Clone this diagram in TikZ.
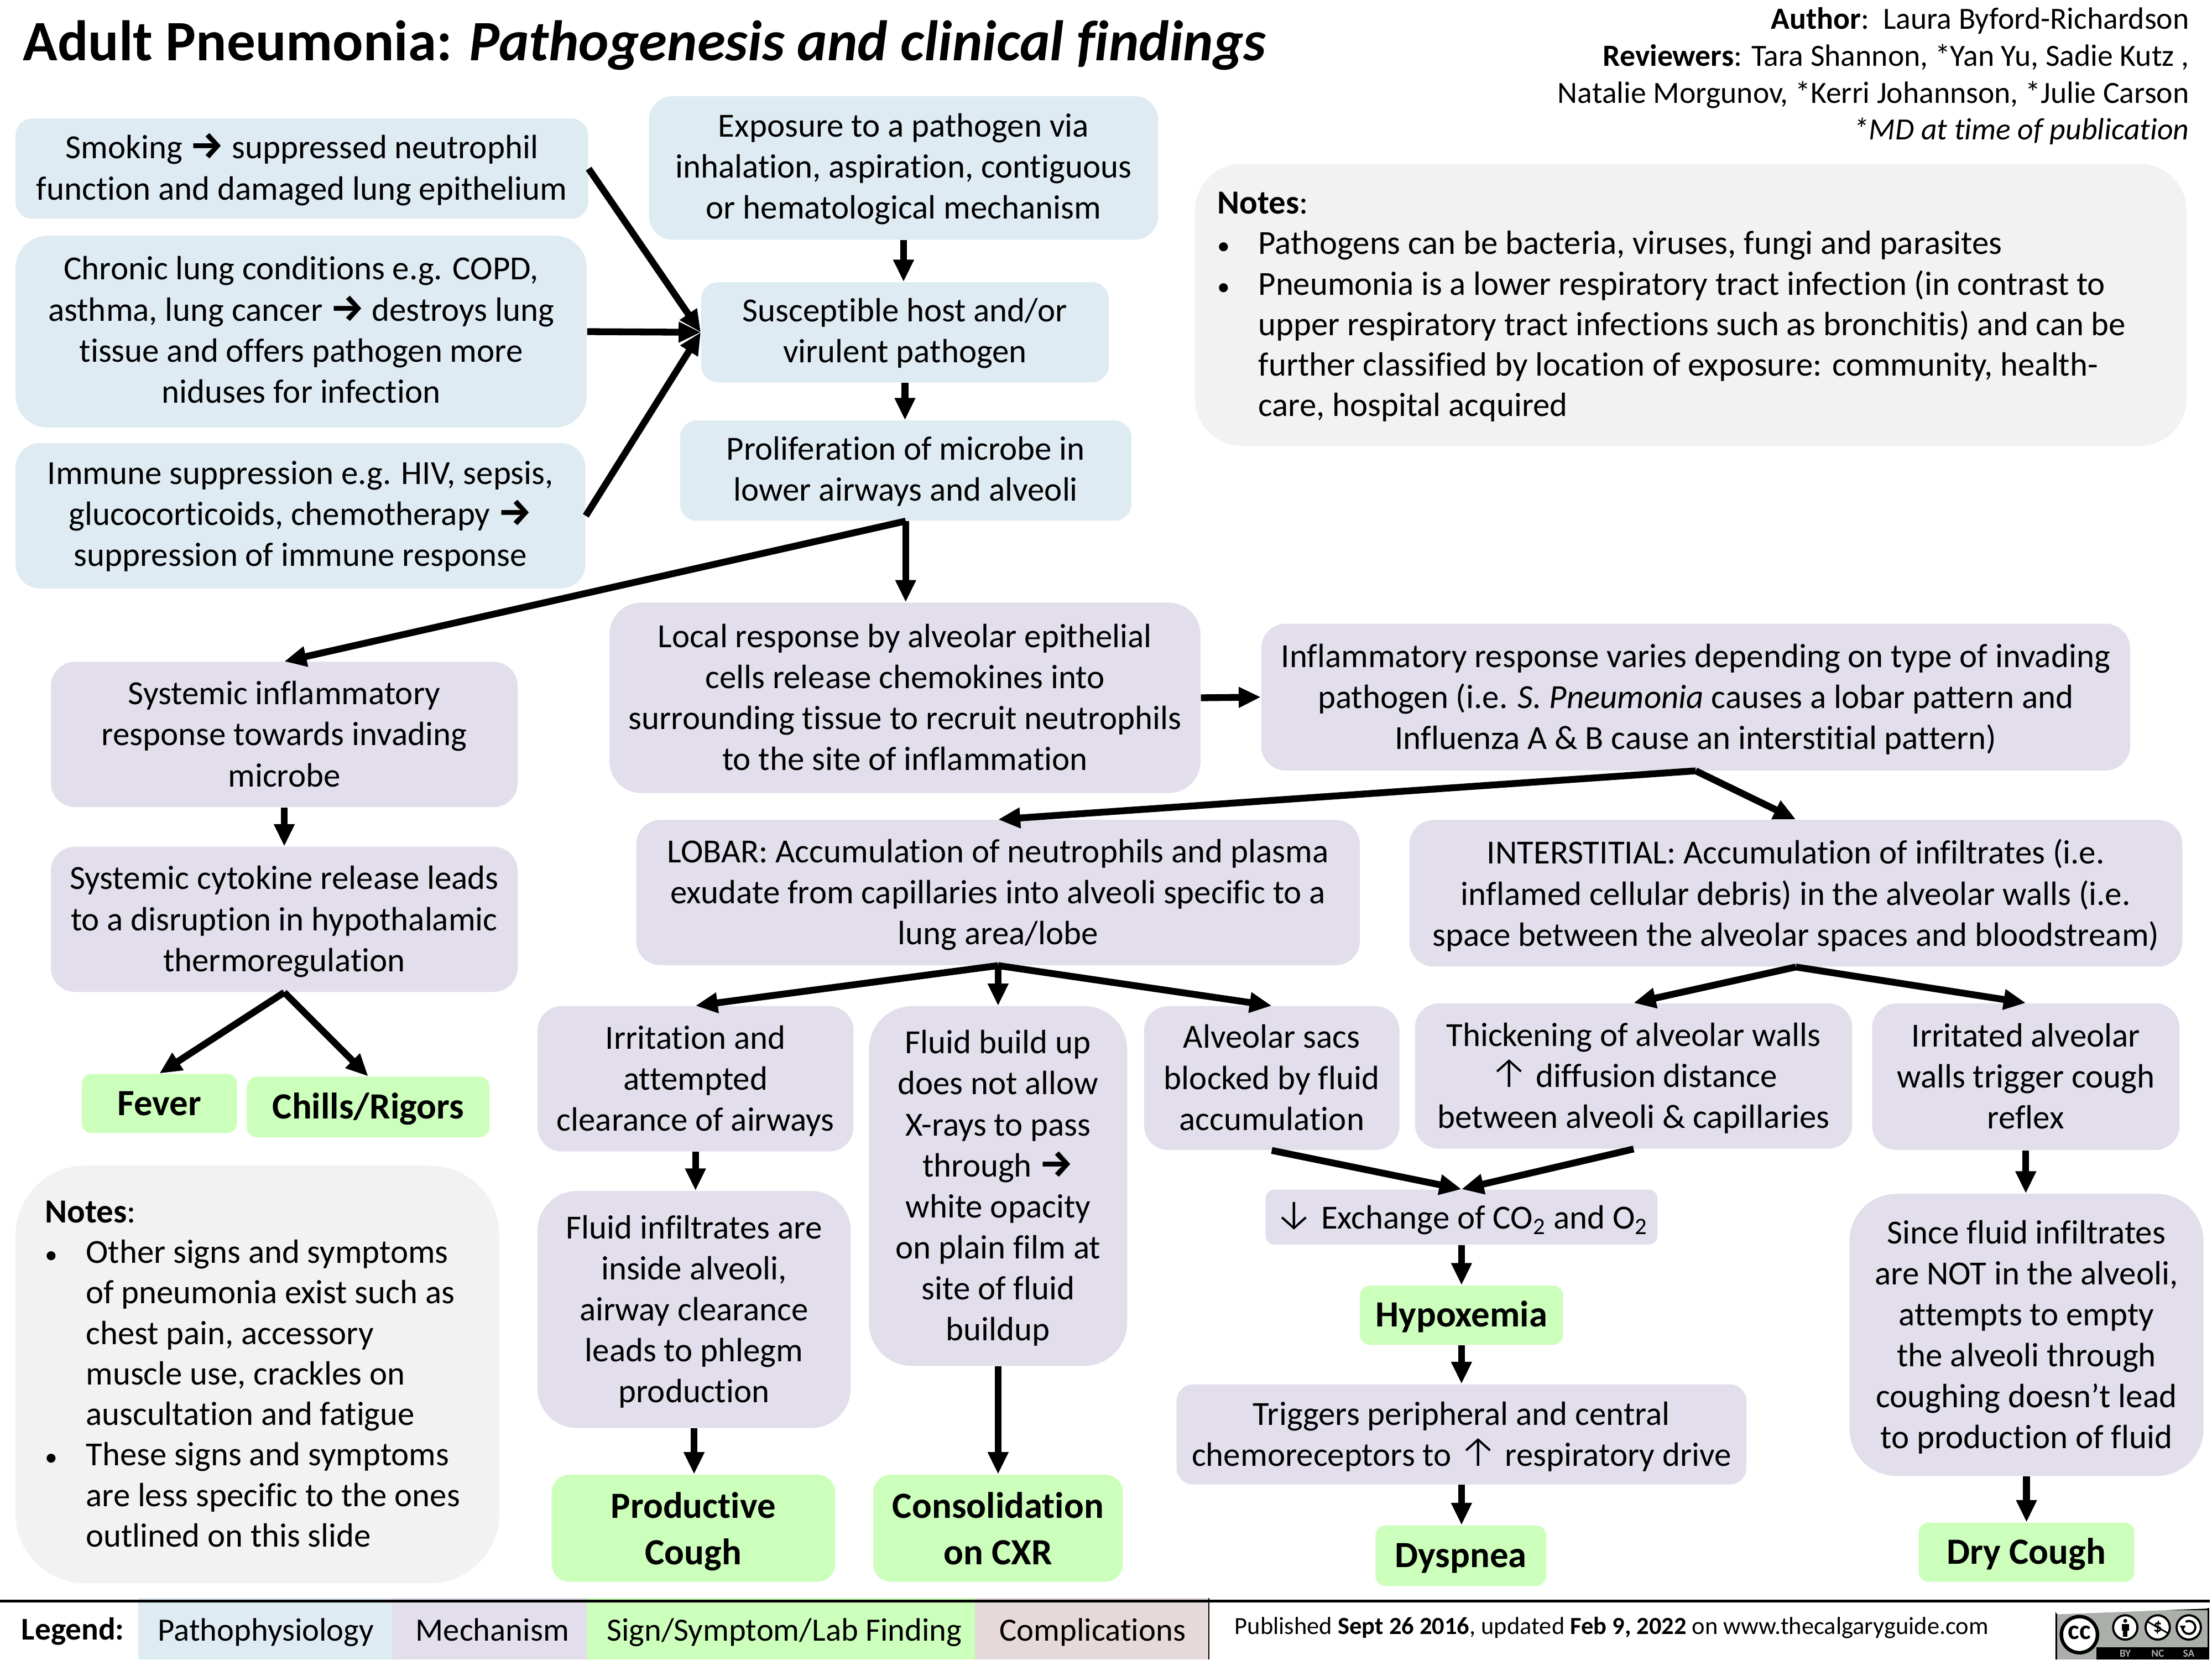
\documentclass[tikz,border=0pt]{standalone}
\usepackage{fontspec}
\setmainfont{Carlito}[Ligatures=NoCommon]
\newfontfamily\arfont{Fira Sans}
\newfontfamily\arlight{Fira Sans Light}
\usetikzlibrary{arrows.meta,calc}
\definecolor{cblue}{HTML}{DFEBF3}
\definecolor{cpurp}{HTML}{E3DEEB}
\definecolor{cgreen}{HTML}{CCFFBB}
\definecolor{cgrey}{HTML}{F2F2F2}
\definecolor{cred}{HTML}{E6D9D9}
\definecolor{cbadge}{HTML}{ABAFA9}
\newcommand{\txtRa}{{\arfont\bfseries\fontsize{19.5}{19.5}\selectfont →}}
\newcommand{\txtUp}{{\arlight\fontsize{22}{21}\selectfont ↑}}
\newcommand{\txtDn}{{\arlight\fontsize{22}{21}\selectfont ↓}}
\newcommand{\bul}{\makebox[21.05pt][l]{\fontsize{13}{13}\selectfont •}}
\newcommand{\nind}{\hspace*{21.05pt}}
\def\tbh{0pt}
% box: [style]{name}{x1}{y1}{x2}{y2}{text}
\newcommand{\bx}[6][]{%
  \pgfmathsetmacro\bw{(#5-#3)*0.7258}%
  \pgfmathsetmacro\bh{(#6-#4)*0.7258}%
  \pgfmathsetmacro\cxx{(#3+#5)/2}%
  \pgfmathsetmacro\cyy{(#4+#6)/2}%
  \pgfmathsetmacro\rr{min(\bw,\bh)*0.1667}%
  \node[box,#1,minimum width=\bw pt,minimum height=\bh pt,rounded corners=\rr pt] (#2) at (\cxx,\cyy)}
% grey note box: {name}{x1}{y1}{x2}{y2}{pad in pt}
\newcommand{\nb}[6]{%
  \pgfmathsetmacro\bw{(#4-#2)*0.7258}%
  \pgfmathsetmacro\bh{(#5-#3)*0.7258}%
  \pgfmathsetmacro\tw{(#4-#2)*0.7258-2*#6}%
  \pgfmathsetmacro\cxx{(#2+#4)/2}%
  \pgfmathsetmacro\cyy{(#3+#5)/2}%
  \pgfmathsetmacro\rr{min(\bw,\bh)*0.1667}%
  \node[box,tbh=15pt,execute at end node={\rule[-4.4pt]{0pt}{0pt}},fill=cgrey,align=flush left,text width=\tw pt,inner xsep=#6 pt,minimum height=\bh pt,rounded corners=\rr pt,font=\fontsize{17.3}{20.85}\selectfont] (#1) at (\cxx,\cyy)}
\newcommand{\cnv}[2]{\draw[arr] (#1.south) -- (#1.south |- #2.north);}
\newcommand{\cnx}[2]{\draw[arr] (#1) -- (#2);}
\tikzset{
  box/.style={inner sep=0pt,align=center,font=\fontsize{17.35}{21.1}\selectfont,
    tbh=0pt,
    execute at begin node={\rule{0pt}{\tbh}}},
  tbh/.code={\def\tbh{#1}},
  bluebox/.style={fill=cblue,text depth=2.05pt},
  purpbox/.style={fill=cpurp,text depth=0.6pt},
  greenbox/.style={fill=cgreen,font=\bfseries\fontsize{19}{23.9}\selectfont,tbh=17.45pt,text depth=5.35pt},
  greentwo/.style={greenbox,text depth=-0.2pt},
  legbox/.style={inner sep=0pt,font=\fontsize{16.7}{20}\selectfont},
  arr/.style={line width=3.5pt,-{Triangle[length=11.4pt,width=10pt]}},
  ccring/.style={draw=black,fill=white,line width=1.1pt},
}
\begin{document}
\begin{tikzpicture}[x=0.0255102cm,y=-0.0255102cm]
\useasboundingbox (0,0) rectangle (1568,1176);
% title
\node[anchor=base west,inner sep=0pt,font=\bfseries\fontsize{29.4}{32}\selectfont] (title) at (16,43) {Adult Pneumonia: \itshape Pathogenesis and clinical findings};
\node[anchor=north east,inner sep=0pt,align=right,font=\fontsize{15.85}{19}\selectfont] (author) at (1552,5) {\textbf{Author}:\ \ Laura Byford-Richardson\\\textbf{Reviewers}: Tara Shannon, *Yan Yu, Sadie Kutz ,\\Natalie Morgunov, *Kerri Johannson, *Julie Carson\\\textit{*MD at time of publication}};
% blue
\bx[bluebox]{smoke}{11}{84}{417}{155}{Smoking \txtRa{} suppressed neutrophil\\function and damaged lung epithelium};
\bx[bluebox]{chronic}{11}{167}{416}{303}{Chronic lung conditions e.g. COPD,\\asthma, lung cancer \txtRa{} destroys lung\\tissue and offers pathogen more\\niduses for infection};
\bx[bluebox]{immune}{11}{314}{415}{417}{Immune suppression e.g. HIV, sepsis,\\glucocorticoids, chemotherapy \txtRa\\suppression of immune response};
\bx[bluebox]{expo}{460}{68}{821}{170}{Exposure to a pathogen via\\inhalation, aspiration, contiguous\\or hematological mechanism};
\bx[bluebox]{host}{497}{200}{786}{271}{Susceptible host and/or\\virulent pathogen};
\bx[bluebox]{prolif}{482}{298}{802}{369}{Proliferation of microbe in\\lower airways and alveoli};
% notes
\nb{notesA}{847}{116}{1550}{316}{11.6}{\textbf{Notes}:\\\bul Pathogens can be bacteria, viruses, fungi and parasites\\\bul Pneumonia is a lower respiratory tract infection (in contrast to\\\nind upper respiratory tract infections such as bronchitis) and can be\\\nind further classified by location of exposure: community, health-\\\nind care, hospital acquired};
\nb{notesB}{11}{826}{354}{1122}{15.2}{\textbf{Notes}:\\\bul Other signs and symptoms\\\nind of pneumonia exist such as\\\nind chest pain, accessory\\\nind muscle use, crackles on\\\nind auscultation and fatigue\\\bul These signs and symptoms\\\nind are less specific to the ones\\\nind outlined on this slide};
% purple
\bx[purpbox]{local}{432}{427}{851}{562}{Local response by alveolar epithelial\\cells release chemokines into\\surrounding tissue to recruit neutrophils\\to the site of inflammation};
\bx[purpbox]{inflam}{894}{442}{1510}{546}{Inflammatory response varies depending on type of invading\\pathogen (i.e. \textit{S. Pneumonia} causes a lobar pattern and\\Influenza A \& B cause an interstitial pattern)};
\bx[purpbox]{system}{36}{469}{367}{572}{Systemic inflammatory\\response towards invading\\microbe};
\bx[purpbox]{cyto}{36}{600}{367}{703}{Systemic cytokine release leads\\to a disruption in hypothalamic\\thermoregulation};
\bx[purpbox]{lobar}{451}{581}{964}{684}{LOBAR: Accumulation of neutrophils and plasma\\exudate from capillaries into alveoli specific to a\\lung area/lobe};
\bx[purpbox]{inter}{999}{581}{1547}{685}{INTERSTITIAL: Accumulation of infiltrates (i.e.\\inflamed cellular debris) in the alveolar walls (i.e.\\space between the alveolar spaces and bloodstream)};
\bx[purpbox]{irrit}{381}{713}{605}{816}{Irritation and\\attempted\\clearance of airways};
\bx[purpbox]{build}{616}{713}{799}{968}{Fluid build up\\does not allow\\X-rays to pass\\through \txtRa\\white opacity\\on plain film at\\site of fluid\\buildup};
\bx[purpbox]{sacs}{811}{713}{992}{815}{Alveolar sacs\\blocked by fluid\\accumulation};
\bx[purpbox]{thick}{1003}{711}{1313}{814}{Thickening of alveolar walls\\\txtUp{} diffusion distance\\between alveoli \& capillaries};
\bx[purpbox]{walls}{1327}{711}{1545}{815}{Irritated alveolar\\walls trigger cough\\reflex};
\bx[purpbox]{finf}{381}{844}{603}{1012}{Fluid infiltrates are\\inside alveoli,\\airway clearance\\leads to phlegm\\production};
\bx[purpbox,tbh=16.8pt,text depth=4.5pt]{exch}{897}{843}{1175}{882}{\txtDn{} Exchange of CO\textsubscript{2} and O\textsubscript{2}};
\bx[purpbox]{trig}{834}{981}{1238}{1052}{Triggers peripheral and central\\chemoreceptors to \txtUp{} respiratory drive};
\bx[purpbox]{since}{1311}{846}{1562}{1046}{Since fluid infiltrates\\are NOT in the alveoli,\\attempts to empty\\the alveoli through\\coughing doesn’t lead\\to production of fluid};
% green
\bx[greenbox]{fever}{58}{761}{168}{803}{Fever};
\bx[greenbox]{chills}{175}{763}{347}{806}{Chills/Rigors};
\bx[greentwo]{prod}{391}{1045}{592}{1121}{Productive\\Cough};
\bx[greentwo]{cons}{619}{1045}{796}{1121}{Consolidation\\on CXR};
\bx[greenbox]{hypo}{964}{911}{1108}{953}{Hypoxemia};
\bx[greenbox]{dysp}{975}{1081}{1096}{1124}{Dyspnea};
\bx[greenbox]{dry}{1360}{1079}{1513}{1121}{Dry Cough};
% connectors
\cnx{smoke.east}{host.west}
\cnx{chronic.east}{host.west}
\cnx{immune.east}{host.west}
\cnv{expo}{host}
\cnv{host}{prolif}
\cnv{prolif}{local}
\cnx{prolif.south}{system.north}
\cnx{local.east}{inflam.west}
\cnx{inflam.south}{lobar.north}
\cnx{inflam.south}{inter.north}
\cnv{system}{cyto}
\cnx{cyto.south}{fever.north}
\cnx{cyto.south}{chills.north}
\cnx{lobar.south}{irrit.north}
\cnv{lobar}{build}
\cnx{lobar.south}{sacs.north}
\cnx{inter.south}{thick.north}
\cnx{inter.south}{walls.north}
\cnv{irrit}{finf}
\cnv{finf}{prod}
\cnv{build}{cons}
\cnx{sacs.south}{exch.north}
\cnx{thick.south}{exch.north}
\cnv{exch}{hypo}
\cnv{hypo}{trig}
\cnv{trig}{dysp}
\cnv{walls}{since}
\cnv{since}{dry}
% legend
\fill[cblue] (98,1132.5) rectangle (278,1176);
\fill[cpurp] (278,1132.5) rectangle (416,1176);
\fill[cgreen] (416,1132.5) rectangle (691,1176);
\fill[cred] (691,1132.5) rectangle (857,1176);
\draw[line width=1.45pt] (0,1134.5) -- (1566.5,1134.5);
\draw[line width=0.6pt] (857,1132.5) -- (857,1176);
\node[legbox,anchor=base west,font=\bfseries\fontsize{16.3}{20}\selectfont] (lgd) at (15,1162) {Legend:};
\node[legbox,anchor=base] (lg1) at (188.5,1163) {Pathophysiology};
\node[legbox,anchor=base] (lg2) at (349,1163) {Mechanism};
\node[legbox,anchor=base] (lg3) at (556,1163) {Sign/Symptom/Lab Finding};
\node[legbox,anchor=base] (lg4) at (774.5,1163) {Complications};
\node[anchor=base west,inner sep=0pt,font=\fontsize{12.66}{16}\selectfont] (pub) at (875,1158) {Published \textbf{Sept 26 2016}, updated \textbf{Feb 9, 2022} on www.thecalgaryguide.com};
% CC badge
\begin{scope}
\clip (1457,1176) -- (1457,1142) arc[start angle=180,end angle=90,radius=2] -- (1564,1140) arc[start angle=90,end angle=0,radius=2] -- (1566,1176) -- cycle;
\fill[cbadge] (1457,1140) rectangle (1566,1176);
\fill[black] (1486,1167.4) rectangle (1566,1176);
\draw[line width=1pt] (1457.4,1176) -- (1457.4,1140.4) -- (1565.6,1140.4) -- (1565.6,1176);
\end{scope}
\draw[ccring,line width=1.8pt] (1474,1158.4) circle[radius=12.8];
\node[inner sep=0pt,font=\bfseries\fontsize{14}{14}\selectfont] (ccmark) at (1474,1157) {cc};
\draw[ccring] (1506.5,1153.3) circle[radius=8.6];
\fill (1506.5,1148.6) circle[radius=1.4];
\fill (1504,1151) rectangle (1509,1155.5);
\fill (1505,1155) rectangle (1508,1160);
\draw[ccring] (1529.5,1153.3) circle[radius=8.6];
\node[inner sep=0pt,font=\bfseries\fontsize{9}{9}\selectfont] (ncmark) at (1529.5,1153.3) {\$};
\draw[line width=0.8pt] (1522,1149) -- (1537,1157.5);
\draw[ccring] (1551.5,1153.3) circle[radius=8.6];
\draw[line width=1.1pt] (1547,1153.3) arc[start angle=180,end angle=-120,radius=4.6];
\fill (1545,1152) -- (1549.5,1152) -- (1547.2,1155.5) -- cycle;
\node[inner sep=0pt,text=cbadge,font=\bfseries\fontsize{5.5}{6}\selectfont] (cctext1) at (1506.5,1171.8) {BY};
\node[inner sep=0pt,text=cbadge,font=\bfseries\fontsize{5.5}{6}\selectfont] (cctext2) at (1529.5,1171.8) {NC};
\node[inner sep=0pt,text=cbadge,font=\bfseries\fontsize{5.5}{6}\selectfont] (cctext3) at (1551.5,1171.8) {SA};
\end{tikzpicture}
\end{document}
